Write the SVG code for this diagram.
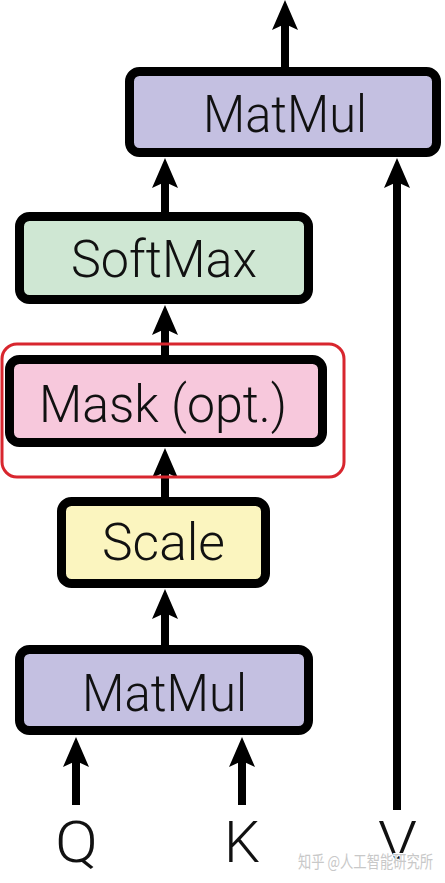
<svg xmlns="http://www.w3.org/2000/svg" width="445" height="883" viewBox="0 0 445 883">
<style>
.box{stroke:#000;stroke-width:9}
.lbl{font-family:Roboto,"Liberation Sans",Arial,sans-serif;font-weight:300;font-size:52px;fill:#111;text-anchor:middle}
.io{font-family:Roboto,"Liberation Sans",Arial,sans-serif;font-weight:300;font-size:57px;fill:#111;text-anchor:middle}
.conn{stroke:#000;stroke-width:8;fill:none;marker-end:url(#ah)}
.wm{font-family:"Noto Sans CJK SC","Liberation Sans",sans-serif;font-size:17px;fill:#c8c8c8;stroke:#fff;stroke-width:2;paint-order:stroke}
</style>
<defs>
<marker id="ah" viewBox="0 0 30 26" refX="6" refY="13" markerWidth="30" markerHeight="26" markerUnits="userSpaceOnUse" orient="auto">
<path d="M0,0 L30,13 L0,26 L6,13 z" fill="#000"/>
</marker>
</defs>
<rect width="445" height="883" fill="#fff"/>
<g id="connectors">
<line class="conn" x1="285" y1="70" x2="285" y2="24"/>
<line class="conn" x1="165" y1="214" x2="165" y2="182"/>
<line class="conn" x1="165" y1="357" x2="165" y2="329"/>
<line class="conn" x1="165" y1="499" x2="165" y2="472"/>
<line class="conn" x1="165" y1="647" x2="165" y2="613"/>
<line class="conn" x1="76" y1="805" x2="76" y2="761"/>
<line class="conn" x1="242" y1="805" x2="242" y2="761"/>
<line class="conn" x1="397" y1="810" x2="397" y2="182"/>
</g>
<g id="matmul-top">
<rect class="box" x="129.5" y="71.5" width="307" height="81" rx="10" fill="#c4c0e1"/>
<text class="lbl" x="285" y="132" font-size="55" textLength="164" lengthAdjust="spacingAndGlyphs">MatMul</text>
</g>
<g id="softmax">
<rect class="box" x="19.5" y="216.5" width="289" height="83" rx="10" fill="#cfe7d3"/>
<text class="lbl" x="164" y="277" textLength="186" lengthAdjust="spacingAndGlyphs">SoftMax</text>
</g>
<g id="highlight">
<rect x="2" y="344" width="342" height="133" rx="15" fill="none" stroke="#d8262e" stroke-width="3"/>
</g>
<g id="mask">
<rect class="box" x="9.5" y="359.5" width="313" height="83" rx="10" fill="#f7c8dc"/>
<text class="lbl" x="163" y="422" textLength="248" lengthAdjust="spacingAndGlyphs">Mask (opt.)</text>
</g>
<g id="scale">
<rect class="box" x="61.5" y="501.5" width="204" height="82" rx="10" fill="#fbf5bf"/>
<text class="lbl" x="163.5" y="560" textLength="123" lengthAdjust="spacingAndGlyphs">Scale</text>
</g>
<g id="matmul-bottom">
<rect class="box" x="19.5" y="649.5" width="289" height="81" rx="10" fill="#c4c0e1"/>
<text class="lbl" x="164.5" y="711" font-size="55" textLength="165" lengthAdjust="spacingAndGlyphs">MatMul</text>
</g>
<g id="inputs">
<text class="io" x="76.5" y="862" textLength="43" lengthAdjust="spacingAndGlyphs">Q</text>
<text class="io" x="242" y="862" textLength="36" lengthAdjust="spacingAndGlyphs">K</text>
<text class="io" x="397.5" y="862" textLength="39" lengthAdjust="spacingAndGlyphs">V</text>
</g>
<text class="wm" x="298" y="868" textLength="135" lengthAdjust="spacingAndGlyphs">知乎 @人工智能研究所</text>
</svg>
